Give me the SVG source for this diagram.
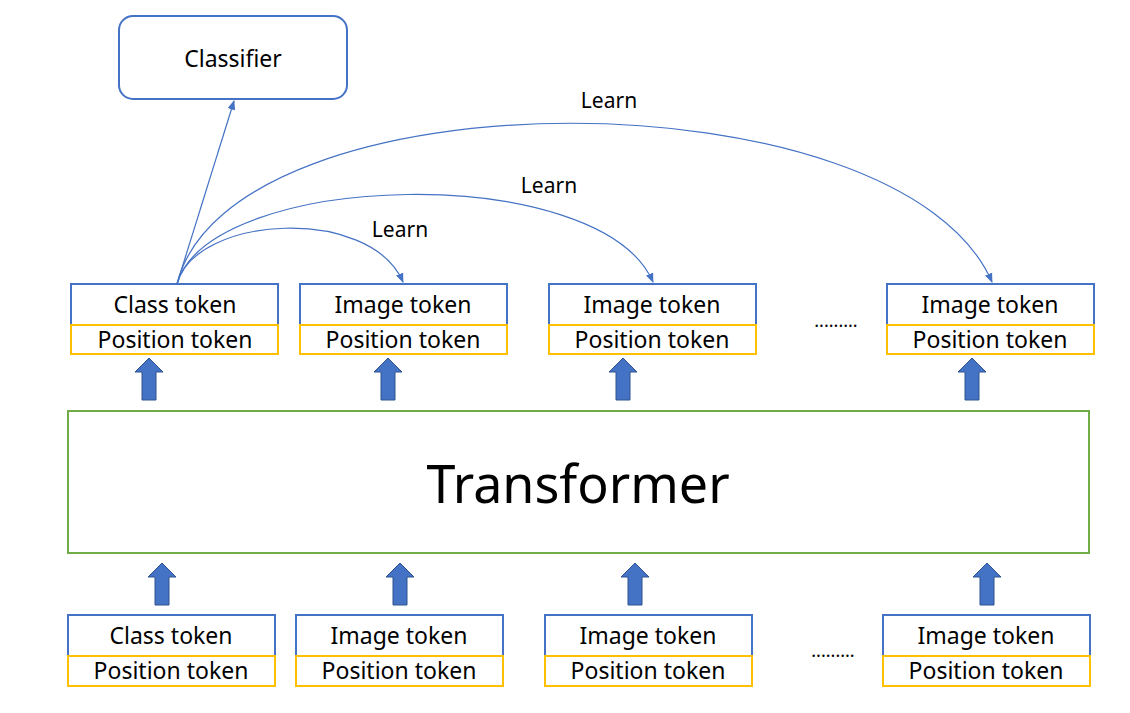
<svg xmlns="http://www.w3.org/2000/svg" width="1130" height="713" viewBox="0 0 1130 713">
<defs>
<style>
text{font-family:"Noto Sans","Liberation Sans",sans-serif;fill:#000;text-anchor:middle}
.t{font-size:23px}
.tok{fill:#fff;stroke:#4472C4;stroke-width:2}
.pos{fill:#fff;stroke:#FFC000;stroke-width:2}
.blk{fill:#4472C4;stroke:#2F528F;stroke-width:1}
.ln{fill:none;stroke:#4472C4;stroke-width:1.2}
</style>
<marker id="ah" viewBox="0 0 10 10" refX="9" refY="5" markerWidth="8" markerHeight="8" orient="auto"><path d="M0,1 L10,5 L0,9 z" fill="#4472C4"/></marker>
<path id="bar" d="M-7,42 V14 H-14 L0,0 L14,14 H7 V42 Z"/>
</defs>
<g id="classifier"><rect x="119" y="16" width="228" height="83" rx="14" fill="#fff" stroke="#4472C4" stroke-width="2"/><text class="t" x="233" y="67">Classifier</text></g>
<g id="transformer"><rect x="68" y="411" width="1021" height="142" fill="#fff" stroke="#70AD47" stroke-width="2"/><text x="578" y="503" font-size="52">Transformer</text></g>
<g id="top1"><rect class="tok" x="71" y="284" width="207" height="41"/><rect class="pos" x="71" y="325" width="207" height="29"/><text class="t" x="175" y="313">Class token</text><text class="t" x="175" y="348">Position token</text></g>
<g id="top2"><rect class="tok" x="300" y="284" width="207" height="41"/><rect class="pos" x="300" y="325" width="207" height="29"/><text class="t" x="403" y="313">Image token</text><text class="t" x="403" y="348">Position token</text></g>
<g id="top3"><rect class="tok" x="549" y="284" width="207" height="41"/><rect class="pos" x="549" y="325" width="207" height="29"/><text class="t" x="652" y="313">Image token</text><text class="t" x="652" y="348">Position token</text></g>
<g id="top4"><rect class="tok" x="887" y="284" width="207" height="41"/><rect class="pos" x="887" y="325" width="207" height="29"/><text class="t" x="990" y="313">Image token</text><text class="t" x="990" y="348">Position token</text></g>
<g id="bot1"><rect class="tok" x="68" y="615" width="207" height="41"/><rect class="pos" x="68" y="656" width="207" height="30"/><text class="t" x="171" y="644">Class token</text><text class="t" x="171" y="679">Position token</text></g>
<g id="bot2"><rect class="tok" x="296" y="615" width="207" height="41"/><rect class="pos" x="296" y="656" width="207" height="30"/><text class="t" x="399" y="644">Image token</text><text class="t" x="399" y="679">Position token</text></g>
<g id="bot3"><rect class="tok" x="545" y="615" width="207" height="41"/><rect class="pos" x="545" y="656" width="207" height="30"/><text class="t" x="648" y="644">Image token</text><text class="t" x="648" y="679">Position token</text></g>
<g id="bot4"><rect class="tok" x="883" y="615" width="207" height="41"/><rect class="pos" x="883" y="656" width="207" height="30"/><text class="t" x="986" y="644">Image token</text><text class="t" x="986" y="679">Position token</text></g>
<text x="836" y="327" font-size="18">.........</text>
<text x="833" y="657" font-size="18">.........</text>
<g id="connectors">
<use href="#bar" class="blk" x="149" y="358"/><use href="#bar" class="blk" x="388" y="358"/><use href="#bar" class="blk" x="623" y="358"/><use href="#bar" class="blk" x="972" y="358"/>
<use href="#bar" class="blk" x="162" y="563"/><use href="#bar" class="blk" x="400" y="563"/><use href="#bar" class="blk" x="635" y="563"/><use href="#bar" class="blk" x="987" y="563"/>
<path class="ln" d="M177,284 L234,101" marker-end="url(#ah)"/>
<path class="ln" d="M177,284 C195,215 370,205 403,282" marker-end="url(#ah)"/>
<path class="ln" d="M177,284 C210,170 600,160 653,282" marker-end="url(#ah)"/>
<path class="ln" d="M177,284 C230,70 900,70 992,282" marker-end="url(#ah)"/>
<text x="400" y="237" font-size="21">Learn</text>
<text x="549" y="193" font-size="21">Learn</text>
<text x="609" y="108" font-size="21">Learn</text>
</g>
</svg>
